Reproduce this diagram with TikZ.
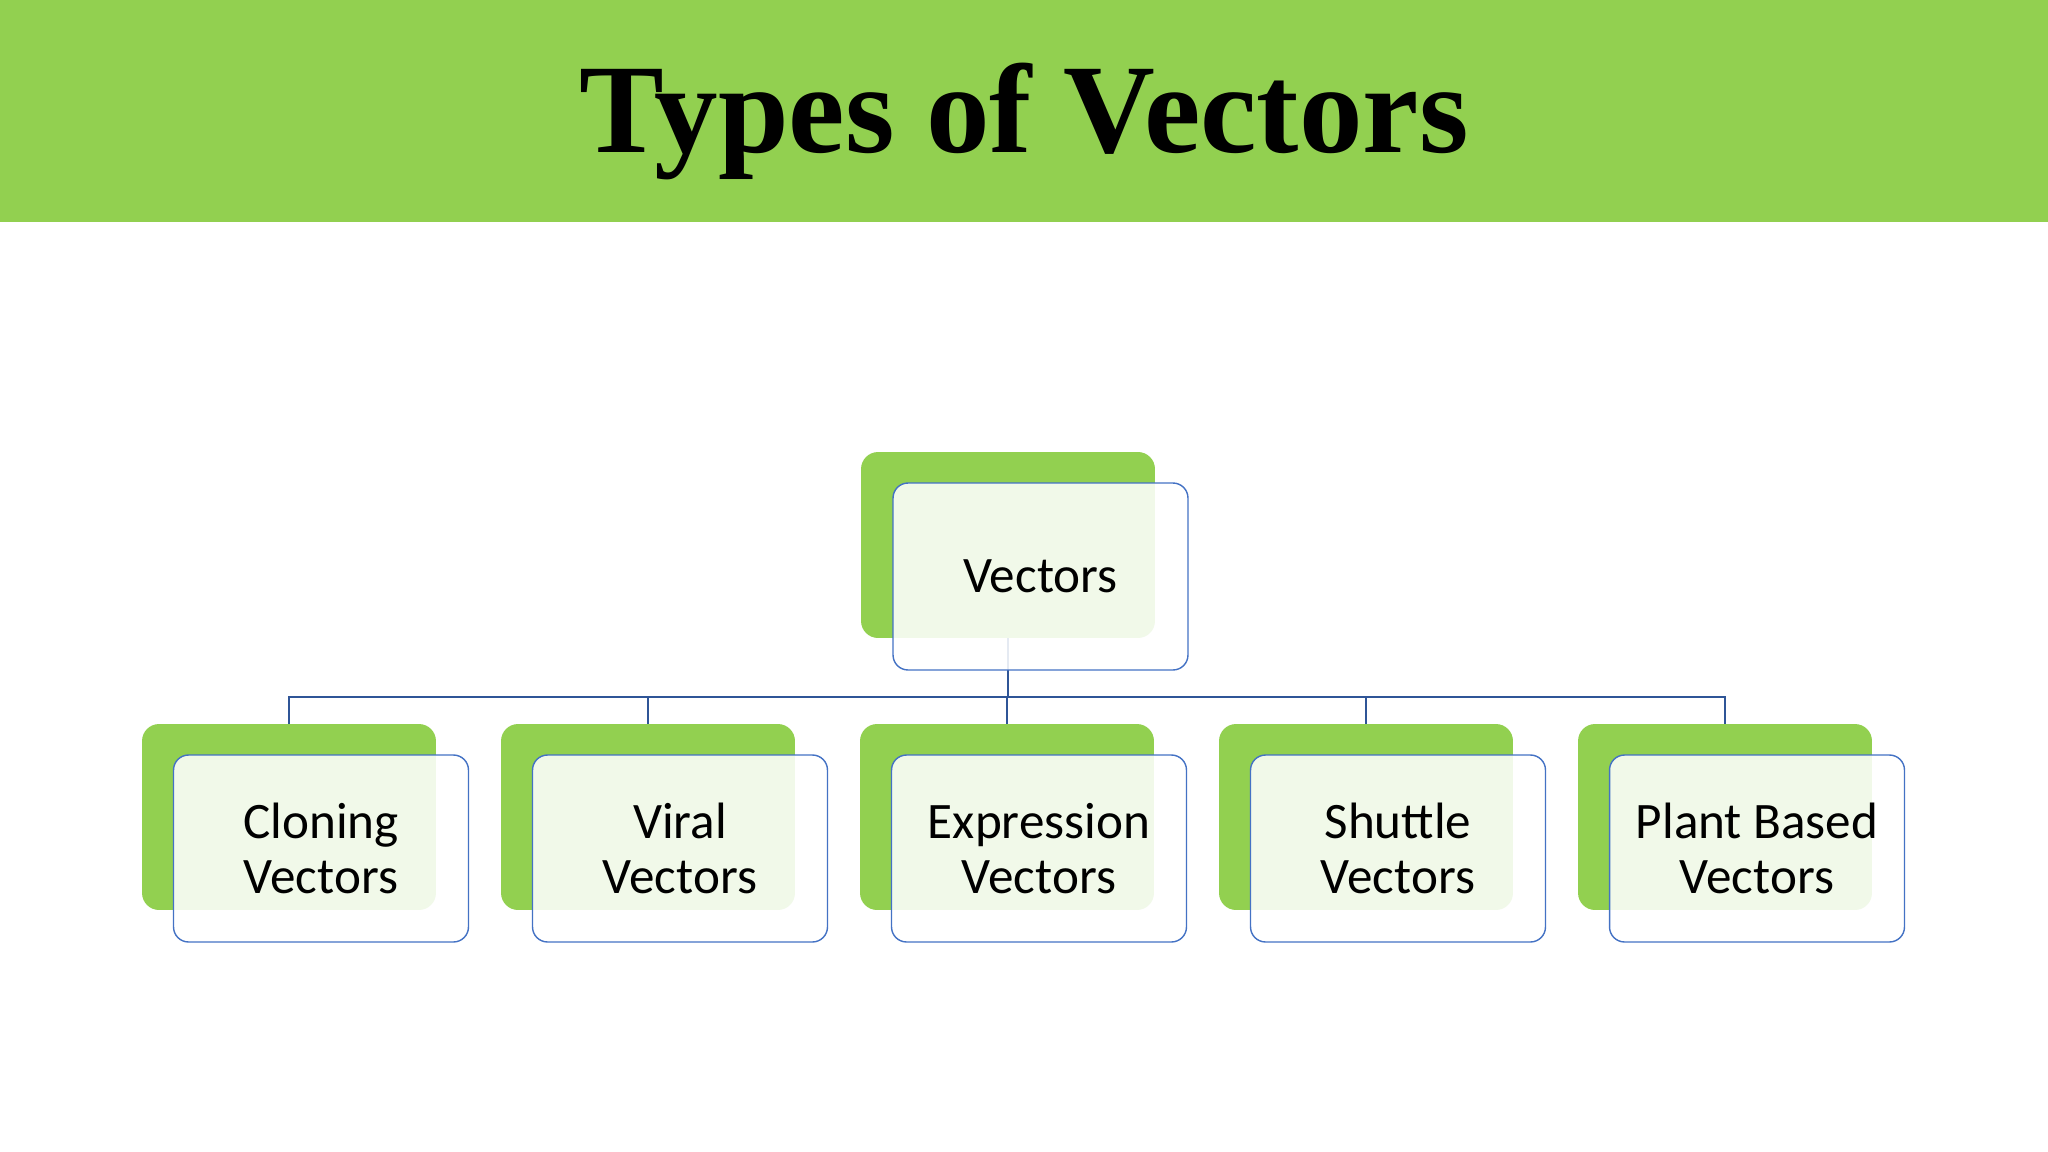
\documentclass[tikz,border=0pt]{standalone}
\usepackage{fontspec}
\setmainfont{Carlito}
\newfontfamily\titlefont{Liberation Serif}
\definecolor{vecgreen}{HTML}{92D050}
\definecolor{boxblue}{HTML}{4472C4}
\definecolor{linkblue}{HTML}{2F5597}
\usetikzlibrary{positioning}

\begin{document}
\begin{tikzpicture}[x=0.02cm, y=-0.02cm,
    backbox/.style={fill=vecgreen, rounded corners=0.34cm, inner sep=0pt,
      minimum width=5.88cm, minimum height=3.72cm},
    frontbox/.style={draw=boxblue, line width=0.8pt, fill=white,
      fill opacity=0.88, text opacity=1, rounded corners=0.3cm,
      minimum width=5.9cm, minimum height=3.74cm, inner sep=0pt,
      align=center, font=\fontsize{29.1}{31.4}\selectfont},
    link/.style={draw=linkblue, line width=1.1pt}]
  \useasboundingbox (0,0) rectangle (2048,1152);
  \fill[vecgreen] (0,0) rectangle (2048,222);
  \node[anchor=base, font={\titlefont\bfseries\fontsize{72.3}{80}\selectfont}]
    (title) at (1024,153) {Types of Vectors};

  \node[backbox] (rootbg) at (1008,545) {};
  \foreach \i in {0,...,4}
    \node[backbox] (bg\i) at (289+359*\i,817) {};

  \foreach \i in {0,...,4}
    \draw[link] (rootbg.south) -- ++(0,59) -| (bg\i.north);

  \node[frontbox] (root) at (1040.5,576.5) {Vectors};
  \foreach \i/\txt in {0/{Cloning\\Vectors}, 1/{Viral\\Vectors},
      2/{Expression\\Vectors}, 3/{Shuttle\\Vectors},
      4/{Plant Based\\Vectors}}
    \node[frontbox] (child\i) at (321+359*\i,848.5) {\txt};
\end{tikzpicture}
\end{document}
